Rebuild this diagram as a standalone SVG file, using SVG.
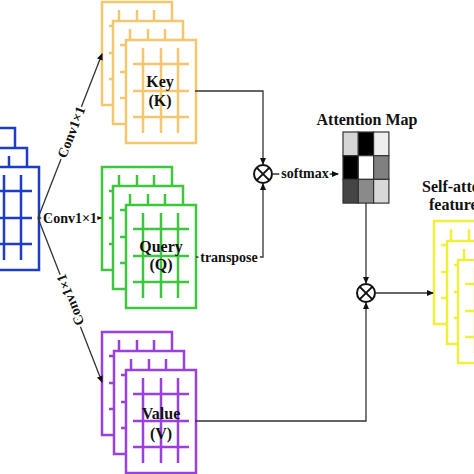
<svg xmlns="http://www.w3.org/2000/svg" xmlns:xlink="http://www.w3.org/1999/xlink" width="474" height="474" viewBox="0 0 474 474">
<style>
.lbl{font-family:"Liberation Serif","Times New Roman",serif;font-weight:bold;fill:#111;}
.big{font-size:16px;}
.sm{font-size:14px;}
.conn{fill:none;stroke:#333;stroke-width:1.3;}
.mask{paint-order:stroke;stroke:#fff;stroke-width:5;stroke-linejoin:round;}
.op circle{fill:#fff;stroke:#111;stroke-width:2;}
.op line{stroke:#111;stroke-width:2;}
.cardline{stroke-width:2.5;fill:#fff;}
</style>
<defs>
<marker id="arr" markerWidth="7" markerHeight="6" refX="6" refY="3" orient="auto" markerUnits="userSpaceOnUse">
<path d="M0,0 L7,3 L0,6 Z" fill="#111"/>
</marker>
<g id="card" class="cardline">
<rect x="0" y="0" width="70" height="103"/>
<path d="M17,8V93M35,8V93M52,8V93M7,24H63M7,51H63M7,77H63" fill="none"/>
</g>
</defs>
<rect width="474" height="474" fill="#fff"/>

<g id="input" stroke="#1E3CC8">
<use xlink:href="#card" x="-55" y="128"/>
<use xlink:href="#card" x="-43" y="148"/>
<use xlink:href="#card" x="-31" y="167"/>
</g>

<g id="key" stroke="#F5C66E">
<use xlink:href="#card" x="102" y="2"/>
<use xlink:href="#card" x="113" y="21"/>
<use xlink:href="#card" x="126" y="40"/>
<text class="lbl big" x="160" y="87" text-anchor="middle" stroke="none">Key</text>
<text class="lbl big" x="160" y="106" text-anchor="middle" stroke="none">(K)</text>
</g>

<g id="query" stroke="#3EC63E">
<use xlink:href="#card" x="102" y="167"/>
<use xlink:href="#card" x="113" y="186"/>
<use xlink:href="#card" x="126" y="205"/>
<text class="lbl big" x="161" y="252" text-anchor="middle" stroke="none">Query</text>
<text class="lbl big" x="161" y="270" text-anchor="middle" stroke="none">(Q)</text>
</g>

<g id="value" stroke="#9A40E0">
<use xlink:href="#card" x="102" y="332"/>
<use xlink:href="#card" x="114" y="351"/>
<use xlink:href="#card" x="126" y="370"/>
<text class="lbl big" x="161" y="419" text-anchor="middle" stroke="none">Value</text>
<text class="lbl big" x="161" y="439" text-anchor="middle" stroke="none">(V)</text>
</g>

<g id="output" stroke="#F0F03C">
<use xlink:href="#card" x="434" y="221"/>
<use xlink:href="#card" x="447" y="241"/>
<use xlink:href="#card" x="458" y="260"/>
<text class="lbl big" x="422" y="192" stroke="none">Self-attention</text>
<text class="lbl big" x="429" y="210" stroke="none">feature</text>
</g>

<g id="attention-map">
<text class="lbl big" x="367" y="125" text-anchor="middle">Attention Map</text>
<g stroke="#333" stroke-width="1.2">
<rect x="343" y="132" width="15.3" height="23.7" fill="#d6d6d6"/>
<rect x="358.3" y="132" width="15.3" height="23.7" fill="#000"/>
<rect x="373.6" y="132" width="15.3" height="23.7" fill="#eeeeee"/>
<rect x="343" y="155.7" width="15.3" height="23.7" fill="#000"/>
<rect x="358.3" y="155.7" width="15.3" height="23.7" fill="#fff"/>
<rect x="373.6" y="155.7" width="15.3" height="23.7" fill="#808080"/>
<rect x="343" y="179.4" width="15.3" height="23.7" fill="#454545"/>
<rect x="358.3" y="179.4" width="15.3" height="23.7" fill="#8a8a8a"/>
<rect x="373.6" y="179.4" width="15.3" height="23.7" fill="#d8d8d8"/>
</g>
</g>

<g id="mult1" class="op">
<circle cx="263" cy="174" r="9"/>
<line x1="256.6" y1="167.6" x2="269.4" y2="180.4"/>
<line x1="269.4" y1="167.6" x2="256.6" y2="180.4"/>
</g>
<g id="mult2" class="op">
<circle cx="366" cy="293" r="9"/>
<line x1="359.6" y1="286.6" x2="372.4" y2="299.4"/>
<line x1="372.4" y1="286.6" x2="359.6" y2="299.4"/>
</g>

<g id="connectors">
<path class="conn" d="M38,218 L102,54" marker-end="url(#arr)"/>
<path class="conn" d="M38,218 L102,382" marker-end="url(#arr)"/>
<path class="conn" d="M38,218 H101" marker-end="url(#arr)"/>
<text class="lbl sm mask" transform="translate(71,132) rotate(-68.7)" text-anchor="middle" dy="5">Conv1×1</text>
<text class="lbl sm mask" transform="translate(70,300) rotate(-111.3)" text-anchor="middle" dy="5">Conv1×1</text>
<text class="lbl sm mask" x="70" y="223" text-anchor="middle">Conv1×1</text>
<path class="conn" d="M195,91 H263 V164" marker-end="url(#arr)"/>
<path class="conn" d="M196,257 H263 V184" marker-end="url(#arr)"/>
<text class="lbl sm mask" x="229" y="262" text-anchor="middle">transpose</text>
<path class="conn" d="M272,174 H338" marker-end="url(#arr)"/>
<text class="lbl sm mask" x="305" y="178" text-anchor="middle">softmax</text>
<path class="conn" d="M366,203 V283" marker-end="url(#arr)"/>
<path class="conn" d="M195,421 H366 V303" marker-end="url(#arr)"/>
<path class="conn" d="M375,293 H433" marker-end="url(#arr)"/>
</g>
</svg>
